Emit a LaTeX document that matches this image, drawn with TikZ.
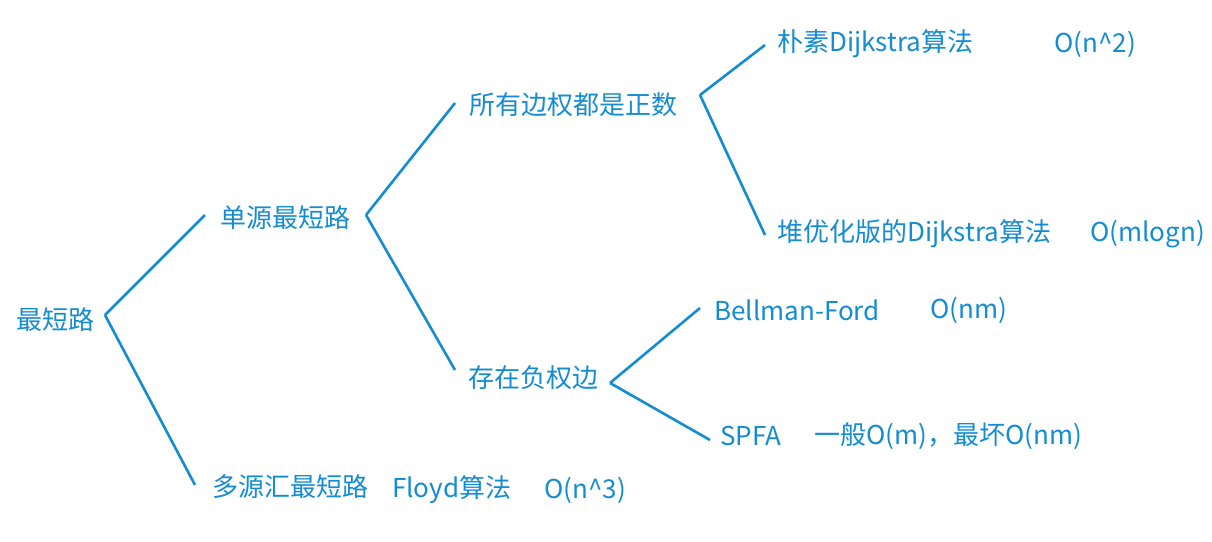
\documentclass[tikz,border=0pt]{standalone}
\usepackage{fontspec}
\setmainfont{Noto Sans CJK SC}
\definecolor{tb}{RGB}{20,140,210}
\begin{document}
\begin{tikzpicture}[x=1pt,y=-1pt,
  t/.style={text=tb,font=\fontsize{26}{28}\selectfont,anchor=west,inner sep=2pt},
  l/.style={draw=tb,line width=2.6pt}]
\useasboundingbox (0,0) rectangle (1212,541);
\node[t] (root) at (14,320) {最短路};
\node[t] (single) at (218,218) {单源最短路};
\node[t] (multi) at (210,487) {多源汇最短路};
\node[t] (floyd) at (390,490) {Floyd算法};
\node[t] (on3) at (542,490) {O(n\^{}3)};
\node[t] (pos) at (467,105) {所有边权都是正数};
\node[t] (neg) at (466,378) {存在负权边};
\node[t] (dj) at (775,44) {朴素Dijkstra算法};
\node[t] (on2) at (1052,44) {O(n\^{}2)};
\node[t] (hdj) at (775,234) {堆优化版的Dijkstra算法};
\node[t] (omlogn) at (1088,234) {O(mlogn)};
\node[t] (bf) at (712,310) {Bellman-Ford};
\node[t] (onm) at (928,310) {O(nm)};
\node[t] (spfa) at (718,436) {SPFA};
\node[t] (spfac) at (812,436) {一般O(m)，最坏O(nm)};
\coordinate (r0) at (105,315);
\coordinate (s0) at (366,215);
\coordinate (p0) at (700,95);
\coordinate (n0) at (610,383);
\draw[l] (r0) -- (205,215) (r0) -- (195,485);
\draw[l] (s0) -- (455,103) (s0) -- (455,370);
\draw[l] (p0) -- (765,45) (p0) -- (765,235);
\draw[l] (n0) -- (700,308) (n0) -- (710,440);
\end{tikzpicture}
\end{document}
